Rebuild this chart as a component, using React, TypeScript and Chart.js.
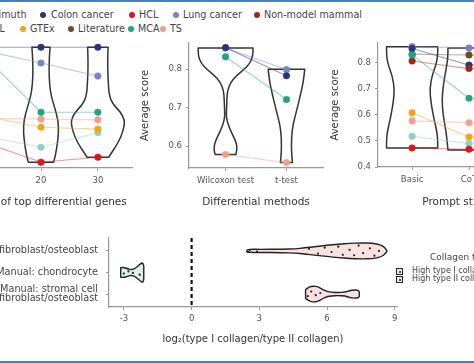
import React, { useEffect, useRef } from "react";
import { Chart, registerables } from "chart.js";
Chart.register(...registerables);

const FONT = "'DejaVu Sans', sans-serif";

// ---------------- Top legend ----------------
const legendRow1 = ["Azimuth", "Colon cancer", "HCL", "Lung cancer", "Non-model mammal"];
const legendRow2 = ["CCL", "GTEx", "Literature", "MCA", "TS"];

const COLORS: Record<string, string> = {
  Azimuth: "#9a9a9a",
  "Colon cancer": "#27367a",
  HCL: "#e3121b",
  "Lung cancer": "#7686c4",
  "Non-model mammal": "#9b2a14",
  CCL: "#8fd0c3",
  GTEx: "#f2a516",
  Literature: "#6e4a2c",
  MCA: "#22a383",
  TS: "#f2a08c",
};

// ---------------- Panel A: number of top differential genes ----------------
const genesCategories = ["10", "20", "30"];
const genesColonCancer = [0.857, 0.857, 0.857];
const genesLungCancer = [0.848, 0.816, 0.782];
const genesMCA = [0.834, 0.688, 0.688];
const genesTS = [0.672, 0.67, 0.668];
const genesGTEx = [0.678, 0.649, 0.644];
const genesCCL = [0.626, 0.597, 0.635];
const genesHCL = [0.61, 0.558, 0.571];
// violin profiles: [score, half width in category units]
const genesViolin10 = [[0.61, 0.12], [0.66, 0.18], [0.72, 0.2], [0.78, 0.16], [0.83, 0.14], [0.857, 0.15]];
const genesViolin20 = [[0.558, 0.22], [0.566, 0.24], [0.597, 0.28], [0.635, 0.31], [0.668, 0.3], [0.7, 0.24], [0.73, 0.18], [0.76, 0.15], [0.8, 0.14], [0.84, 0.15], [0.857, 0.16]];
const genesViolin30 = [[0.571, 0.19], [0.585, 0.25], [0.6, 0.32], [0.625, 0.41], [0.65, 0.46], [0.668, 0.47], [0.688, 0.4], [0.708, 0.27], [0.73, 0.2], [0.77, 0.18], [0.82, 0.17], [0.857, 0.18]];

// ---------------- Panel B: differential methods ----------------
const methodCategories = ["Wilcoxon test", "t-test"];
const methodColonCancer = [0.856, 0.783];
const methodLungCancer = [0.855, 0.799];
const methodMCA = [0.832, 0.721];
const methodTS = [0.578, 0.557];
const methodViolinWilcoxon = [[0.578, 0.17], [0.59, 0.19], [0.607, 0.18], [0.625, 0.13], [0.645, 0.07], [0.665, 0.025], [0.68, 0.012], [0.7, 0.018], [0.725, 0.022], [0.745, 0.035], [0.765, 0.08], [0.785, 0.19], [0.8, 0.31], [0.815, 0.4], [0.835, 0.45], [0.855, 0.45]];
const methodViolinTTest = [[0.557, 0.1], [0.57, 0.09], [0.6, 0.08], [0.64, 0.09], [0.67, 0.13], [0.7, 0.18], [0.74, 0.24], [0.77, 0.28], [0.8, 0.3]];
const methodTicks = [0.6, 0.7, 0.8];

// ---------------- Panel C: prompt strategies ----------------
const promptCategories = ["Basic", "CoT", "Detailed"];
const promptLungCancer = [0.862, 0.857, 0.85];
const promptLiterature = [0.833, 0.83, 0.82];
const promptColonCancer = [0.855, 0.791, 0.8];
const promptNonModelMammal = [0.807, 0.778, 0.77];
const promptMCA = [0.83, 0.664, 0.66];
const promptGTEx = [0.608, 0.515, 0.53];
const promptTS = [0.577, 0.57, 0.56];
const promptCCL = [0.518, 0.49, 0.5];
const promptHCL = [0.473, 0.468, 0.47];
const promptViolinBasic = [[0.473, 0.45], [0.5, 0.45], [0.53, 0.44], [0.56, 0.41], [0.6, 0.37], [0.65, 0.33], [0.7, 0.31], [0.75, 0.35], [0.78, 0.4], [0.81, 0.44], [0.84, 0.45], [0.862, 0.45]];
const promptViolinCoT = [[0.465, 0.37], [0.49, 0.38], [0.53, 0.4], [0.58, 0.44], [0.63, 0.47], [0.68, 0.47], [0.73, 0.44], [0.78, 0.4], [0.82, 0.37], [0.857, 0.37]];
const promptViolinDetailed = [[0.47, 0.35], [0.52, 0.38], [0.6, 0.42], [0.68, 0.42], [0.76, 0.38], [0.85, 0.35]];
const promptTicks = [0.4, 0.5, 0.6, 0.7, 0.8];

// ---------------- Panel D: collagen ratio ----------------
const collagenCategories: (string | string[])[] = [
  "Automatic: fibroblast/osteoblast",
  "Manual: chondrocyte",
  ["Manual: stromal cell", "fibroblast/osteoblast"],
];
const collagenTicks = [-3, 0, 3, 6, 9];
const collagenRefLine = 0;
const collagenViolinFibro = [[2.45, 0.04], [2.6, 0.08], [3.0, 0.07], [4.0, 0.08], [4.6, 0.1], [5.0, 0.14], [5.5, 0.2], [6.0, 0.26], [6.5, 0.31], [7.0, 0.35], [7.5, 0.37], [8.0, 0.36], [8.4, 0.28], [8.6, 0.12], [8.65, 0.02]];
const collagenViolinChondro = [[-3.14, 0.22], [-3.0, 0.24], [-2.85, 0.18], [-2.7, 0.13], [-2.55, 0.16], [-2.4, 0.28], [-2.25, 0.42], [-2.15, 0.46], [-2.12, 0.3]];
const collagenViolinStromal = [[5.05, 0.2], [5.2, 0.33], [5.4, 0.37], [5.6, 0.34], [5.8, 0.22], [6.0, 0.12], [6.2, 0.08], [6.5, 0.07], [6.8, 0.09], [7.0, 0.16], [7.2, 0.19], [7.4, 0.18], [7.43, 0.1]];
const collagenDotsFibroX = [2.5, 2.58, 2.9, 5.2, 5.6, 5.9, 6.2, 6.5, 6.7, 7.0, 7.2, 7.4, 7.6, 7.9, 8.1, 8.3];
const collagenDotsFibroY = [0.05, -0.05, 0.03, -0.1, 0.12, -0.15, 0.05, -0.2, 0.18, -0.05, 0.2, -0.25, 0.1, -0.12, 0.22, 0.0];
const collagenDotsChondroX = [-3.0, -2.8, -2.6, -2.3];
const collagenDotsChondroY = [1.05, 0.95, 1.02, 1.1];
const collagenDotsStromalX = [5.15, 5.3, 5.5, 5.7];
const collagenDotsStromalY = [2.1, 1.88, 2.05, 1.95];

const PINK = "#f7e1e1";
const MINT = "#dcefe9";

type Profile = number[][];
type ViolinItem = { pos: number; profile: Profile; fill?: string };

function smoothSide(ctx: CanvasRenderingContext2D, pts: number[][], first: boolean) {
  if (first) ctx.moveTo(pts[0][0], pts[0][1]);
  else ctx.lineTo(pts[0][0], pts[0][1]);
  for (let i = 1; i < pts.length - 1; i++) {
    const mx = (pts[i][0] + pts[i + 1][0]) / 2;
    const my = (pts[i][1] + pts[i + 1][1]) / 2;
    ctx.quadraticCurveTo(pts[i][0], pts[i][1], mx, my);
  }
  const l = pts[pts.length - 1];
  ctx.lineTo(l[0], l[1]);
}

function makeViolinPlugin(items: ViolinItem[], horizontal: boolean, stroke: string, lineWidth: number) {
  return {
    id: "violins",
    beforeDatasetsDraw(chart: any) {
      const ctx: CanvasRenderingContext2D = chart.ctx;
      const xs = chart.scales.x;
      const ys = chart.scales.y;
      ctx.save();
      for (const it of items) {
        const toPx = (v: number, off: number) =>
          horizontal
            ? [xs.getPixelForValue(v), ys.getPixelForValue(it.pos + off)]
            : [xs.getPixelForValue(it.pos + off), ys.getPixelForValue(v)];
        const sideA = it.profile.map(([v, w]) => toPx(v, w));
        const sideB = it.profile.slice().reverse().map(([v, w]) => toPx(v, -w));
        ctx.beginPath();
        smoothSide(ctx, sideA, true);
        smoothSide(ctx, sideB, false);
        ctx.closePath();
        if (it.fill) {
          ctx.fillStyle = it.fill;
          ctx.fill();
        }
        ctx.strokeStyle = stroke;
        ctx.lineWidth = lineWidth;
        ctx.lineJoin = "round";
        ctx.stroke();
      }
      ctx.restore();
    },
  };
}

function hexA(hex: string, a: number) {
  const n = parseInt(hex.slice(1), 16);
  return `rgba(${(n >> 16) & 255},${(n >> 8) & 255},${n & 255},${a})`;
}

type Series = { name: string; values: number[] };

function scoreConfig(o: {
  categories: string[];
  series: Series[];
  violins: ViolinItem[];
  yMin: number;
  yMax: number;
  yTicks: number[];
  yWidth: number;
  xHeight: number;
  padTop: number;
  padRight: number;
  xTitle: string;
  yTitle: string;
}) {
  const n = o.categories.length;
  return {
    type: "scatter",
    data: {
      datasets: o.series.map((s) => ({
        label: s.name,
        data: s.values.map((v, i) => ({ x: i, y: v })),
        showLine: true,
        borderColor: hexA(COLORS[s.name], 0.45),
        borderWidth: 1.2,
        pointRadius: 3.3,
        pointBackgroundColor: COLORS[s.name],
        pointBorderColor: COLORS[s.name],
        pointBorderWidth: 0.5,
        clip: false,
      })),
    },
    options: {
      animation: false,
      responsive: false,
      events: [],
      layout: { padding: { left: 0, top: o.padTop, right: o.padRight, bottom: 0 } },
      plugins: { legend: { display: false }, tooltip: { enabled: false } },
      scales: {
        x: {
          type: "linear",
          min: -0.6,
          max: n - 0.4,
          afterBuildTicks: (s: any) => {
            s.ticks = o.categories.map((_, i) => ({ value: i }));
          },
          afterFit: (s: any) => {
            s.height = o.xHeight;
            s.paddingLeft = 0;
            s.paddingRight = 0;
          },
          ticks: {
            callback: (v: number) => o.categories[Math.round(v)],
            font: { family: FONT, size: 8.5 },
            color: "#555",
            padding: 5,
            autoSkip: false,
            maxRotation: 0,
          },
          grid: { display: true, drawOnChartArea: false, drawTicks: true, tickLength: 3, color: "#999" },
          border: { display: true, color: "#999", width: 1.2 },
          title: { display: true, text: o.xTitle, font: { family: FONT, size: 10.5 }, color: "#333", padding: { top: 0, bottom: 6 } },
        },
        y: {
          type: "linear",
          min: o.yMin,
          max: o.yMax,
          afterBuildTicks: (s: any) => {
            s.ticks = o.yTicks.map((v) => ({ value: v }));
          },
          afterFit: (s: any) => {
            s.width = o.yWidth;
            s.paddingTop = 0;
            s.paddingBottom = 0;
          },
          ticks: {
            callback: (v: number) => v.toFixed(1),
            font: { family: FONT, size: 8.5 },
            color: "#555",
            padding: 4,
          },
          grid: { display: true, drawOnChartArea: false, drawTicks: true, tickLength: 3, color: "#999" },
          border: { display: true, color: "#999", width: 1.2 },
          title: { display: true, text: o.yTitle, font: { family: FONT, size: 10 }, color: "#333", padding: { top: 9, bottom: 0 } },
        },
      },
    },
    plugins: [makeViolinPlugin(o.violins, false, "#333", 1.5)],
  };
}

function collagenConfig() {
  const dots = (xs: number[], ys: number[]) => xs.map((x, i) => ({ x, y: ys[i] }));
  return {
    type: "scatter",
    data: {
      datasets: [
        {
          label: "ref",
          data: [
            { x: collagenRefLine, y: -0.6 },
            { x: collagenRefLine, y: 2.6 },
          ],
          showLine: true,
          borderColor: "#111",
          borderWidth: 2.2,
          borderDash: [4, 3],
          pointRadius: 0,
        },
        {
          label: "dots",
          data: [
            ...dots(collagenDotsFibroX, collagenDotsFibroY),
            ...dots(collagenDotsChondroX, collagenDotsChondroY),
            ...dots(collagenDotsStromalX, collagenDotsStromalY),
          ],
          pointRadius: 1.1,
          pointBackgroundColor: "#222",
          pointBorderColor: "#222",
          pointBorderWidth: 0,
        },
      ],
    },
    options: {
      animation: false,
      responsive: false,
      events: [],
      layout: { padding: { left: 0, top: 13, right: 77, bottom: 0 } },
      plugins: { legend: { display: false }, tooltip: { enabled: false } },
      scales: {
        x: {
          type: "linear",
          min: -3.66,
          max: 9.1,
          afterBuildTicks: (s: any) => {
            s.ticks = collagenTicks.map((v) => ({ value: v }));
          },
          afterFit: (s: any) => {
            s.height = 56;
            s.paddingLeft = 0;
            s.paddingRight = 0;
          },
          ticks: { font: { family: FONT, size: 8.5 }, color: "#555", padding: 4 },
          grid: { display: true, drawOnChartArea: false, drawTicks: true, tickLength: 3, color: "#999" },
          border: { display: true, color: "#999", width: 1.2 },
          title: {
            display: true,
            text: "log\u2082(type I collagen/type II collagen)",
            font: { family: FONT, size: 10 },
            color: "#333",
            padding: { top: 0, bottom: 18 },
          },
        },
        y: {
          type: "linear",
          min: -0.6,
          max: 2.6,
          reverse: true,
          afterBuildTicks: (s: any) => {
            s.ticks = collagenCategories.map((_, i) => ({ value: i }));
          },
          afterFit: (s: any) => {
            s.width = 109;
            s.paddingTop = 0;
            s.paddingBottom = 0;
          },
          ticks: {
            callback: (v: number) => collagenCategories[Math.round(v)],
            font: { family: FONT, size: 9.7, lineHeight: 0.95 },
            color: "#444",
            padding: 8,
          },
          grid: { display: true, drawOnChartArea: false, drawTicks: true, tickLength: 3, color: "#999" },
          border: { display: true, color: "#999", width: 1.2 },
        },
      },
    },
    plugins: [
      makeViolinPlugin(
        [
          { pos: 0, profile: collagenViolinFibro, fill: PINK },
          { pos: 1, profile: collagenViolinChondro, fill: MINT },
          { pos: 2, profile: collagenViolinStromal, fill: PINK },
        ],
        true,
        "#222",
        1.4
      ),
    ],
  };
}

function Panel(props: { left: number; top: number; width: number; height: number; make: () => any }) {
  const ref = useRef<HTMLCanvasElement>(null);
  useEffect(() => {
    const c = new Chart(ref.current as HTMLCanvasElement, props.make());
    return () => c.destroy();
  }, []);
  const { left, top, width, height } = props;
  return (
    <div style={{ position: "absolute", left, top, width, height }}>
      <canvas ref={ref} width={width} height={height} style={{ width, height, display: "block" }} />
    </div>
  );
}

// legend layout: [marker centre x, text left x]
const legendRow1Pos = [
  [-20, -13],
  [43, 51],
  [132, 139],
  [176, 183],
  [257, 264],
];
const legendRow2Pos = [
  [-22, -14],
  [23, 30],
  [71, 78],
  [131, 138],
  [163, 170],
];

function LegendRow({ names, pos, y }: { names: string[]; pos: number[][]; y: number }) {
  return (
    <>
      {names.map((n, i) => (
        <React.Fragment key={n}>
          <div
            style={{
              position: "absolute",
              left: pos[i][0] - 3,
              top: y - 3,
              width: 6,
              height: 6,
              borderRadius: 3,
              background: COLORS[n],
            }}
          />
          <span
            style={{
              position: "absolute",
              left: pos[i][1],
              top: y - 7,
              font: `9.6px ${FONT}`,
              lineHeight: "13px",
              color: "#444",
              whiteSpace: "nowrap",
            }}
          >
            {n}
          </span>
        </React.Fragment>
      ))}
    </>
  );
}

export default function App() {
  const genesSeries: Series[] = [
    { name: "Colon cancer", values: genesColonCancer },
    { name: "Lung cancer", values: genesLungCancer },
    { name: "MCA", values: genesMCA },
    { name: "TS", values: genesTS },
    { name: "GTEx", values: genesGTEx },
    { name: "CCL", values: genesCCL },
    { name: "HCL", values: genesHCL },
  ];
  const methodSeries: Series[] = [
    { name: "TS", values: methodTS },
    { name: "MCA", values: methodMCA },
    { name: "Colon cancer", values: methodColonCancer },
    { name: "Lung cancer", values: methodLungCancer },
  ];
  const promptSeries: Series[] = [
    { name: "HCL", values: promptHCL },
    { name: "CCL", values: promptCCL },
    { name: "TS", values: promptTS },
    { name: "GTEx", values: promptGTEx },
    { name: "MCA", values: promptMCA },
    { name: "Non-model mammal", values: promptNonModelMammal },
    { name: "Colon cancer", values: promptColonCancer },
    { name: "Literature", values: promptLiterature },
    { name: "Lung cancer", values: promptLungCancer },
  ];
  return (
    <div
      style={{
        position: "fixed",
        left: 0,
        top: 0,
        width: 474,
        height: 363,
        overflow: "hidden",
        background: "#fff",
        fontFamily: FONT,
      }}
    >
      <div style={{ position: "absolute", left: 0, top: 0, width: 474, height: 2, background: "#4f7fae" }} />
      <div style={{ position: "absolute", left: 0, top: 361, width: 474, height: 2, background: "#4f7fae" }} />
      <LegendRow names={legendRow1} pos={legendRow1Pos} y={15} />
      <LegendRow names={legendRow2} pos={legendRow2Pos} y={29} />

      <Panel
        left={-120}
        top={0}
        width={260}
        height={215}
        make={() =>
          scoreConfig({
            categories: genesCategories,
            series: genesSeries,
            violins: [
              { pos: 0, profile: genesViolin10 },
              { pos: 1, profile: genesViolin20 },
              { pos: 2, profile: genesViolin30 },
            ],
            yMin: 0.543,
            yMax: 0.868,
            yTicks: methodTicks,
            yWidth: 70,
            xHeight: 47,
            padTop: 43,
            padRight: 8,
            xTitle: "Number of top differential genes",
            yTitle: "Average score",
          })
        }
      />
      <Panel
        left={130}
        top={0}
        width={200}
        height={215}
        make={() =>
          scoreConfig({
            categories: methodCategories,
            series: methodSeries,
            violins: [
              { pos: 0, profile: methodViolinWilcoxon },
              { pos: 1, profile: methodViolinTTest },
            ],
            yMin: 0.543,
            yMax: 0.868,
            yTicks: methodTicks,
            yWidth: 59,
            xHeight: 47,
            padTop: 43,
            padRight: 7,
            xTitle: "Differential methods",
            yTitle: "Average score",
          })
        }
      />
      <Panel
        left={320}
        top={0}
        width={260}
        height={215}
        make={() =>
          scoreConfig({
            categories: promptCategories,
            series: promptSeries,
            violins: [
              { pos: 0, profile: promptViolinBasic },
              { pos: 1, profile: promptViolinCoT },
              { pos: 2, profile: promptViolinDetailed },
            ],
            yMin: 0.4,
            yMax: 0.876,
            yTicks: promptTicks,
            yWidth: 58,
            xHeight: 48,
            padTop: 43,
            padRight: 20,
            xTitle: "Prompt strategies",
            yTitle: "Average score",
          })
        }
      />
      <Panel left={0} top={225} width={474} height={138} make={collagenConfig} />

      {/* collagen legend */}
      <span style={{ position: "absolute", left: 430, top: 252, font: `9px ${FONT}`, color: "#444", whiteSpace: "nowrap" }}>
        Collagen type
      </span>
      {[
        { label: "High type I collagen", fill: PINK, y: 271 },
        { label: "High type II collagen", fill: MINT, y: 279 },
      ].map((it) => (
        <React.Fragment key={it.label}>
          <div
            style={{
              position: "absolute",
              left: 396,
              top: it.y - 3,
              width: 5,
              height: 5,
              border: "1px solid #222",
              background: it.fill,
            }}
          >
            <div style={{ position: "absolute", left: 1.5, top: 1.5, width: 2, height: 2, borderRadius: 1, background: "#222" }} />
          </div>
          <span
            style={{
              position: "absolute",
              left: 412,
              top: it.y - 5,
              font: `8px ${FONT}`,
              lineHeight: "10px",
              color: "#444",
              whiteSpace: "nowrap",
            }}
          >
            {it.label}
          </span>
        </React.Fragment>
      ))}
    </div>
  );
}
